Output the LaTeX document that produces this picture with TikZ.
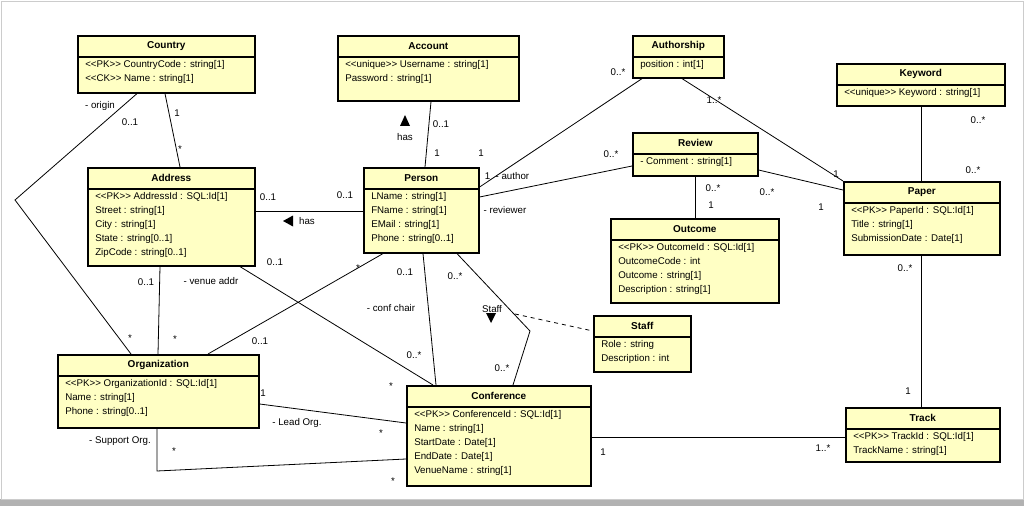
\documentclass[tikz,border=0pt]{standalone}
\usepackage{fontspec}
\setmainfont{Liberation Sans}
\usetikzlibrary{backgrounds}
\definecolor{clsfill}{HTML}{FFFFC4}
\tikzset{
  cls/.style={draw, line width=1.2pt, fill=clsfill, inner sep=0pt},
  hd/.style={font=\fontsize{7.5}{9}\selectfont\bfseries, inner sep=0pt, minimum height=16pt},
  attr/.style={font=\fontsize{7.3}{10.5}\selectfont, align=left, inner sep=0pt},
  lbl/.style={font=\fontsize{7.3}{8}\selectfont, inner sep=0pt},
  assoc/.style={line width=0.6pt},
}
\newcommand\st[1]{\mbox{<}\mbox{<}#1\mbox{>}\mbox{>}}
% name, left, top, width, height, title, attributes
\newcommand\umlclass[7]{%
  \node[cls, minimum width=#4*0.75pt, minimum height=#5*0.75pt, anchor=north west] (#1) at (#2,#3) {};
  \node[hd, anchor=north] (#1-t) at (#1.north) {#6};
  \draw[line width=0.9pt] ([yshift=-16.5pt]#1.north west) -- ([yshift=-16.5pt]#1.north east);
  \node[attr, anchor=north west] (#1-a) at ([xshift=6pt,yshift=-19pt]#1.north west) {#7};
}
\begin{document}
\begin{tikzpicture}[x=0.75pt, y=-0.75pt]
\useasboundingbox (0,0) rectangle (1024,506);
\fill[gray!60] (0,499) rectangle (1024,506);
\draw[gray!40] (1,1) rectangle (1023,499);

% classes
\umlclass{country}{77}{35}{177}{57}{Country}{\st{PK} CountryCode : string[1]\\\st{CK} Name : string[1]}
\umlclass{account}{337}{35}{181}{65}{Account}{\st{unique} Username : string[1]\\Password : string[1]}
\umlclass{authorship}{632}{35}{91}{42}{Authorship}{position : int[1]}
\umlclass{keyword}{836}{63}{168}{42}{Keyword}{\st{unique} Keyword : string[1]}
\umlclass{review}{632}{132}{125}{43}{Review}{- Comment : string[1]}
\umlclass{address}{87}{167}{167}{98}{Address}{\st{PK} AddressId : SQL:Id[1]\\Street : string[1]\\City : string[1]\\State : string[0..1]\\ZipCode : string[0..1]}
\umlclass{person}{363}{167}{115}{85}{Person}{LName : string[1]\\FName : string[1]\\EMail : string[1]\\Phone : string[0..1]}
\umlclass{paper}{843}{181}{156}{73}{Paper}{\st{PK} PaperId : SQL:Id[1]\\Title : string[1]\\SubmissionDate : Date[1]}
\umlclass{outcome}{610}{218}{168}{84}{Outcome}{\st{PK} OutcomeId : SQL:Id[1]\\OutcomeCode : int\\Outcome : string[1]\\Description : string[1]}
\umlclass{staff}{593}{315}{97}{56}{Staff}{Role : string\\Description : int}
\umlclass{organization}{57}{354}{201}{73}{Organization}{\st{PK} OrganizationId : SQL:Id[1]\\Name : string[1]\\Phone : string[0..1]}
\umlclass{conference}{406}{385}{184}{100}{Conference}{\st{PK} ConferenceId : SQL:Id[1]\\Name : string[1]\\StartDate : Date[1]\\EndDate : Date[1]\\VenueName : string[1]}
\umlclass{track}{845}{407}{154}{54}{Track}{\st{PK} TrackId : SQL:Id[1]\\TrackName : string[1]}

% associations
\begin{scope}[on background layer]
\draw[assoc] (country.south -| 165,0) -- (address.north -| 180,0);
\draw[assoc] (country.south -| 137,0) -- (15,200) -- (organization.north -| 131,0);
\draw[assoc] (address.south -| 160,0) -- (organization.north -| 158,0);
\draw[assoc] (address.south -| 240,0) -- (conference.north -| 433,0);
\draw[assoc] (person.west |- 0,211) -- (address.east |- 0,211);
\draw[assoc] (account.south -| 431,0) -- (person.north -| 425,0);
\draw[assoc] (person.east |- 0,187) -- (authorship.south -| 642,0);
\draw[assoc] (authorship.south -| 682,0) -- (paper.north west);
\draw[assoc] (person.east |- 0,197) -- (review.west |- 0,166);
\draw[assoc] (review.east |- 0,170) -- (paper.west |- 0,190);
\draw[assoc] (review.south -| 695,0) -- (outcome.north -| 695,0);
\draw[assoc] (keyword.south -| 921,0) -- (paper.north -| 921,0);
\draw[assoc] (paper.south -| 921,0) -- (track.north -| 921,0);
\draw[assoc] (person.south -| 383,0) -- (organization.north -| 208,0);
\draw[assoc] (person.south -| 423,0) -- (conference.north -| 436,0);
\draw[assoc] (person.south -| 457,0) -- (530,331) -- (conference.north -| 513,0);
\draw[assoc, dashed] (515,314) -- (staff.west |- 0,331);
\draw[assoc] (organization.east |- 0,404) -- (conference.west |- 0,423);
\draw[assoc] (organization.south -| 157,0) -- (157,471) -- (conference.west |- 0,459);
\draw[assoc] (conference.east |- 0,437) -- (track.west |- 0,437);
\end{scope}

% direction marks
\fill (400,126) -- (410,126) -- (405,115) -- cycle;
\fill (283,221) -- (293,215.5) -- (293,226.5) -- cycle;
\fill (486,313) -- (496,313) -- (491,323) -- cycle;

% multiplicities and roles
\node[lbl] (m1) at (177,113) {1};
\node[lbl] (m2) at (180,149) {*};
\node[lbl] (m3) at (100,106) {- origin};
\node[lbl] (m4) at (130,122) {0..1};
\node[lbl] (m5) at (130,338) {*};
\node[lbl] (m6) at (146,282) {0..1};
\node[lbl] (m7) at (175,339) {*};
\node[lbl] (m8) at (211,281) {- venue addr};
\node[lbl] (m9) at (275,262) {0..1};
\node[lbl] (m10) at (391,386) {*};
\node[lbl] (m11) at (268,197) {0..1};
\node[lbl] (m12) at (345,195) {0..1};
\node[lbl] (m13) at (307,221) {has};
\node[lbl] (m14) at (441,124) {0..1};
\node[lbl] (m15) at (437,153) {1};
\node[lbl] (m16) at (405,137) {has};
\node[lbl] (m17) at (481,153) {1};
\node[lbl] (m18) at (618,72) {0..*};
\node[lbl] (m19) at (714,100) {1..*};
\node[lbl] (m20) at (836,174) {1};
\node[lbl] (m21) at (507,176) {1 \ - author};
\node[lbl] (m22) at (611,154) {0..*};
\node[lbl] (m23) at (505,210) {- reviewer};
\node[lbl] (m24) at (767,192) {0..*};
\node[lbl] (m25) at (821,207) {1};
\node[lbl] (m26) at (713,188) {0..*};
\node[lbl] (m27) at (711,205) {1};
\node[lbl] (m28) at (978,120) {0..*};
\node[lbl] (m29) at (973,170) {0..*};
\node[lbl] (m30) at (905,268) {0..*};
\node[lbl] (m31) at (908,391) {1};
\node[lbl] (m32) at (358,268) {*};
\node[lbl] (m33) at (260,341) {0..1};
\node[lbl] (m34) at (405,272) {0..1};
\node[lbl] (m35) at (391,308) {- conf chair};
\node[lbl] (m36) at (414,355) {0..*};
\node[lbl] (m37) at (455,276) {0..*};
\node[lbl] (m38) at (492,309) {Staff};
\node[lbl] (m39) at (502,368) {0..*};
\node[lbl] (m40) at (263,393) {1};
\node[lbl] (m41) at (297,423) {- Lead Org.};
\node[lbl] (m42) at (381,433) {*};
\node[lbl] (m43) at (120,441) {- Support Org.};
\node[lbl] (m44) at (174,451) {*};
\node[lbl] (m45) at (393,481) {*};
\node[lbl] (m46) at (603,452) {1};
\node[lbl] (m47) at (823,448) {1..*};
\end{tikzpicture}
\end{document}
